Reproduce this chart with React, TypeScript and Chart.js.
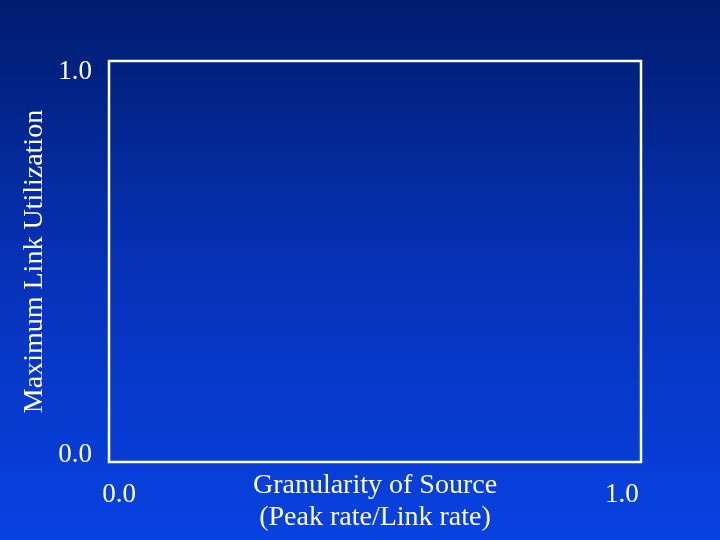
import React, { useEffect, useRef } from "react";
import { Chart, registerables } from "chart.js";

Chart.register(...registerables);

const xTickValues = [0, 1];
const yTickValues = [0, 1];
const xTitleLines = ["Granularity of Source", "(Peak rate/Link rate)"];
const yTitleText = "Maximum Link Utilization";
const emptySeries: { x: number; y: number }[] = [];

const FONT = "'Liberation Serif', 'Times New Roman', serif";

const bgPlugin = {
  id: "bgGradient",
  beforeDraw(chart: any) {
    const { ctx, width, height } = chart;
    const g = ctx.createLinearGradient(0, 0, 0, height);
    g.addColorStop(0, "#001c6e");
    g.addColorStop(0.5, "#0632b8");
    g.addColorStop(1, "#0842e2");
    ctx.save();
    ctx.fillStyle = g;
    ctx.fillRect(0, 0, width, height);
    ctx.restore();
  },
};

const boxPlugin = {
  id: "plotBox",
  afterDraw(chart: any) {
    const { ctx, chartArea } = chart;
    ctx.save();
    ctx.strokeStyle = "#ffffff";
    ctx.lineWidth = 2.5;
    ctx.strokeRect(chartArea.left, chartArea.top, chartArea.right - chartArea.left, chartArea.bottom - chartArea.top);
    ctx.restore();
  },
};

export default function App() {
  const ref = useRef<HTMLCanvasElement | null>(null);

  useEffect(() => {
    document.body.style.margin = "0";
    if (!ref.current) return;
    const chart = new Chart(ref.current, {
      type: "scatter",
      data: { datasets: [{ data: emptySeries }] },
      options: {
        animation: false,
        responsive: false,
        devicePixelRatio: 1,
        layout: { padding: { left: 0, top: 61, right: 79, bottom: 0 } },
        plugins: { legend: { display: false }, tooltip: { enabled: false } },
        scales: {
          x: {
            type: "linear",
            min: -0.0199,
            max: 1.0378,
            afterBuildTicks: (s: any) => {
              s.ticks = xTickValues.map((v) => ({ value: v }));
            },
            afterFit: (s: any) => {
              s.height = 78;
            },
            grid: { display: false, drawTicks: false },
            border: { display: false },
            ticks: {
              color: "#ffffff",
              padding: 17,
              font: { family: FONT, size: 27 },
              maxRotation: 0,
              callback: (v: any) => Number(v).toFixed(1),
            },
            title: {
              display: true,
              text: xTitleLines,
              color: "#ffffff",
              font: { family: FONT, size: 28, lineHeight: 1.12 },
              padding: { top: 0, bottom: 7 },
            },
          },
          y: {
            type: "linear",
            min: -0.0183,
            max: 1.0287,
            afterBuildTicks: (s: any) => {
              s.ticks = yTickValues.map((v) => ({ value: v }));
            },
            afterFit: (s: any) => {
              s.width = 109;
            },
            grid: { display: false, drawTicks: false },
            border: { display: false },
            ticks: {
              color: "#ffffff",
              padding: 17,
              font: { family: FONT, size: 27 },
              callback: (v: any) => Number(v).toFixed(1),
            },
            title: {
              display: true,
              text: yTitleText,
              color: "#ffffff",
              font: { family: FONT, size: 28, lineHeight: 1.2 },
              padding: { top: 18, bottom: 0 },
            },
          },
        },
      },
      plugins: [bgPlugin, boxPlugin],
    });
    return () => chart.destroy();
  }, []);

  return (
    <div style={{ width: 720, height: 540 }}>
      <canvas ref={ref} width={720} height={540} style={{ display: "block", width: 720, height: 540 }} />
    </div>
  );
}
